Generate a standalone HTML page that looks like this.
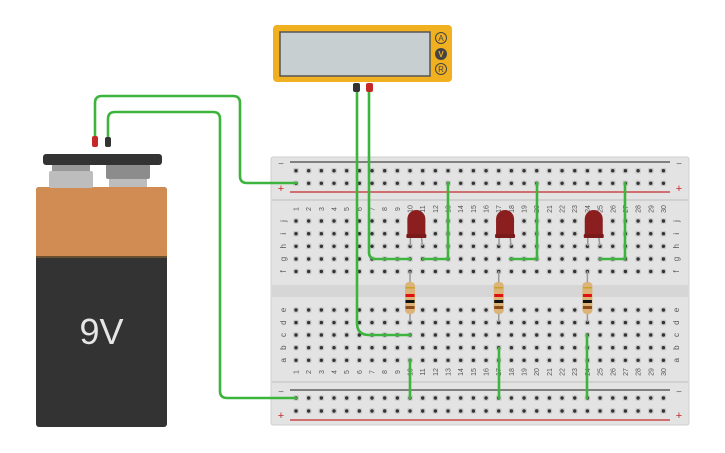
<!DOCTYPE html>
<html><head><meta charset="utf-8"><style>
html,body{margin:0;padding:0;background:#fff;width:725px;height:453px;overflow:hidden}
svg{display:block}
text{font-family:"Liberation Sans",sans-serif}
</style></head><body>
<svg id="s" width="725" height="453" viewBox="0 0 725 453" xmlns="http://www.w3.org/2000/svg">
<!-- battery -->
<rect x="36" y="187" width="131" height="240" rx="3" fill="#333333"/>
<rect x="36" y="187" width="131" height="71" rx="3" fill="#d08c52"/>
<rect x="36" y="256" width="131" height="2" fill="#6b5030"/>
<text x="101.5" y="344" font-size="36" fill="#e6e6e6" text-anchor="middle">9V</text>
<rect x="52" y="164" width="38" height="8" fill="#999"/>
<rect x="49" y="171" width="44" height="17" rx="2" fill="#bdbdbd"/>
<rect x="106" y="164" width="44" height="15" rx="2" fill="#8c8c8c"/>
<rect x="109" y="179" width="38" height="8" fill="#bdbdbd"/>
<rect x="43" y="154" width="119" height="11" rx="3" fill="#333333"/>
<!-- multimeter -->
<rect x="273" y="25" width="179" height="57" rx="4" fill="#f0b020"/>
<rect x="280" y="32" width="150" height="44" fill="#c7cfd1" stroke="#555" stroke-width="1.5"/>
<circle cx="441" cy="38" r="5.5" fill="none" stroke="#444" stroke-width="1"/>
<text x="441" y="41" font-size="8" text-anchor="middle" fill="#444">A</text>
<circle cx="441" cy="54" r="6" fill="#444"/>
<text x="441" y="57" font-size="8" text-anchor="middle" fill="#f0b020" font-weight="bold">V</text>
<circle cx="441" cy="69" r="5.5" fill="none" stroke="#444" stroke-width="1"/>
<text x="441" y="72" font-size="8" text-anchor="middle" fill="#444">R</text>
<!-- breadboard -->
<rect x="271" y="157" width="418" height="268" rx="2" fill="#e3e3e3" stroke="#cfcfcf"/>
<rect x="272" y="199" width="416" height="2" fill="#d0d0d0"/>
<rect x="272" y="285" width="416" height="12" fill="#d6d6d6"/>
<rect x="272" y="381" width="416" height="2" fill="#d0d0d0"/>
<line x1="290" y1="162" x2="670" y2="162" stroke="#444" stroke-width="1.2"/>
<line x1="290" y1="192" x2="670" y2="192" stroke="#c62828" stroke-width="1.2"/>
<line x1="290" y1="390" x2="670" y2="390" stroke="#444" stroke-width="1.2"/>
<line x1="290" y1="420" x2="670" y2="420" stroke="#c62828" stroke-width="1.2"/>
<text x="281" y="167" font-size="10" fill="#666" text-anchor="middle">−</text>
<text x="281" y="192" font-size="11" fill="#c62828" text-anchor="middle">+</text>
<text x="679" y="167" font-size="10" fill="#666" text-anchor="middle">−</text>
<text x="679" y="192" font-size="11" fill="#c62828" text-anchor="middle">+</text>
<text x="281" y="395" font-size="10" fill="#666" text-anchor="middle">−</text>
<text x="281" y="419" font-size="11" fill="#c62828" text-anchor="middle">+</text>
<text x="679" y="395" font-size="10" fill="#666" text-anchor="middle">−</text>
<text x="679" y="419" font-size="11" fill="#c62828" text-anchor="middle">+</text>
<g id="holes"></g>
<!-- LEDs -->
<g id="leds"></g>
<!-- wires -->
<g fill="none" stroke="#3db43d" stroke-width="2.6" stroke-linecap="round" stroke-linejoin="round">
<path d="M95 140 V103 Q95 96 102 96 H233 Q240 96 240 103 V176 Q240 183 247 183 H296"/>
<path d="M108 140 V119 Q108 112 115 112 H213 Q220 112 220 119 V391 Q220 398 227 398 H296"/>
<path d="M357 92 V323 Q357 335 369 335 H410"/>
<path d="M369 92 V252 Q369 259 376 259 H410"/>
<path d="M423 259 H448 V183"/>
<path d="M510 259 H537 V183"/>
<path d="M600 259 H625 V183"/>
<path d="M410 360 V398"/>
<path d="M499 348 V398"/>
<path d="M587 335 V398"/>
</g>
<!-- probe tips -->
<rect x="353" y="83" width="7" height="9" rx="2" fill="#333"/>
<rect x="366" y="83" width="7" height="9" rx="2" fill="#c62828"/>
<rect x="92" y="136" width="6" height="11" rx="2" fill="#c62828"/>
<rect x="105" y="137" width="6" height="10" rx="2" fill="#333"/>
<g id="res"></g>
</svg>
<script>
var NS="http://www.w3.org/2000/svg";
function el(t,a,p){var e=document.createElementNS(NS,t);for(var k in a)e.setAttribute(k,a[k]);(p||document.getElementById('holes')).appendChild(e);return e;}
var P=12.67,X0=296;
var rows=[170.7,183.3,221,233.7,246.3,259,271.5,310,322.6,335,347.7,360.3,398,411];
for(var c=0;c<30;c++){var x=X0+c*P;
 rows.forEach(function(y){el('rect',{x:x-2.8,y:y-2.8,width:5.6,height:5.6,rx:1.5,fill:'#c8c8c8'});el('circle',{cx:x,cy:y,r:1.7,fill:'#333'});});
 var t1=el('text',{x:0,y:0,'font-size':7,fill:'#555','text-anchor':'middle',transform:'translate('+(x+2.5)+',209) rotate(-90)'});t1.textContent=c+1;
 var t2=el('text',{x:0,y:0,'font-size':7,fill:'#555','text-anchor':'middle',transform:'translate('+(x+2.5)+',372) rotate(-90)'});t2.textContent=c+1;
}
var L1=['j','i','h','g','f'],L2=['e','d','c','b','a'];
for(var i=0;i<5;i++){[[283,L1[i],rows[2+i]],[676,L1[i],rows[2+i]],[283,L2[i],rows[7+i]],[676,L2[i],rows[7+i]]].forEach(function(v){
 var t=el('text',{'font-size':8,fill:'#555','text-anchor':'middle',transform:'translate('+(v[0]+3)+','+v[2]+') rotate(-90)'});t.textContent=v[1];});}
var g=document.getElementById('leds');
[10,17,24].forEach(function(col){var x=X0+(col-1)*P+P/2;
 el('line',{x1:x-6,y1:236,x2:x-6,y2:246,stroke:'#999','stroke-width':1.5},g);
 el('line',{x1:x+5,y1:236,x2:x+6,y2:246,stroke:'#999','stroke-width':1.5},g);
 el('path',{d:'M'+(x-9)+' 238 V219 A9 9 0 0 1 '+(x+9)+' 219 V238 Z',fill:'#8b1f1f'},g);
 el('rect',{x:x-10,y:234,width:20,height:4,rx:1,fill:'#7a1a1a'},g);
});
var r=document.getElementById('res');
[10,17,24].forEach(function(col){var x=X0+(col-1)*P;
 el('line',{x1:x,y1:271,x2:x,y2:322,stroke:'#999','stroke-width':1.5},r);
 el('rect',{x:x-5,y:282,width:10,height:32,rx:4,fill:'#dcb47a'},r);
 el('rect',{x:x-4.5,y:287,width:9,height:1.5,fill:'#c9a227'},r);
 el('rect',{x:x-4.5,y:294,width:9,height:3,fill:'#e01010'},r);
 el('rect',{x:x-4.5,y:300,width:9,height:3,fill:'#111'},r);
 el('rect',{x:x-4.5,y:306,width:9,height:3,fill:'#8b4a1a'},r);
});
</script>
</body></html>
